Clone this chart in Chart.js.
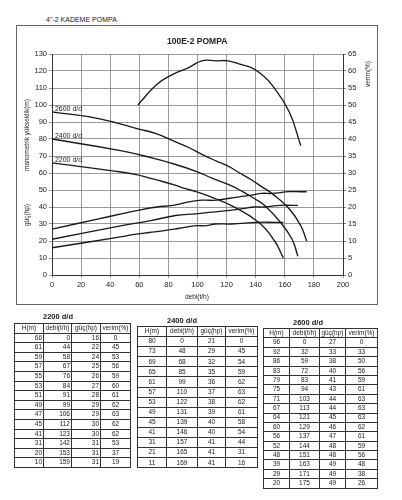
<!DOCTYPE html>
<html>
<head>
<meta charset="utf-8">
<script src="https://cdn.jsdelivr.net/npm/chart.js@4.4.1/dist/chart.umd.min.js"></script>
<style>
  html, body { margin: 0; padding: 0; background: #fff; }
  body { width: 402px; height: 500px; position: relative; overflow: hidden;
    font-family: "Liberation Sans", Arial, sans-serif; color: #222; }
  .abs { position: absolute; white-space: nowrap; }
  .box { position: absolute; left: 16px; top: 25px; width: 360px; height: 278px; border: 1px solid #666; }
  #chart { position: absolute; left: 16px; top: 25px; }
  .rot { transform: translate(-50%, -50%) rotate(-90deg); }
  table { position: absolute; border-collapse: collapse; table-layout: fixed; font-size: 6.5px; }
  td { border: 1px solid #333; padding: 0 1px; line-height: 1; }
  .ttl { font-weight: bold; font-size: 7.5px; }
</style>
</head>
<body>
<div class="abs" style="left:46px;top:16px;font-size:7px;">4"-2 KADEME POMPA</div>
<div class="box"></div>
<canvas id="chart" width="361" height="279" style="width:361px;height:279px;"></canvas>
<div class="abs" style="left:167px;top:36px;font-size:8.5px;font-weight:bold;">100E-2 POMPA</div>
<div class="abs rot" style="left:26px;top:135px;font-size:6.5px;">manometrik yükseklik(m)</div>
<div class="abs rot" style="left:26px;top:215px;font-size:6.5px;">güç(hp)</div>
<div class="abs rot" style="left:367px;top:74px;font-size:6.5px;">verim(%)</div>
<div class="abs" style="left:185px;top:293px;font-size:6.5px;">debi(t/h)</div>

<div class="abs ttl" style="left:43px;top:312px;">2200 d/d</div>
<div class="abs ttl" style="left:167px;top:316px;">2400 d/d</div>
<div class="abs ttl" style="left:293px;top:318px;">2600 d/d</div>
<table id="t2200" style="left:14px;top:323px;width:116px;"></table>
<table id="t2400" style="left:137px;top:326px;width:120px;"></table>
<table id="t2600" style="left:263px;top:328px;width:114px;"></table>

<script>
const tableHeaders = ['H(m)', 'debi(t/h)', 'güç(hp)', 'verim(%)'];

const head2200 = [66, 61, 59, 57, 55, 53, 51, 49, 47, 45, 41, 31, 20, 10];
const flow2200 = [0, 44, 58, 67, 76, 84, 91, 99, 106, 112, 123, 142, 153, 159];
const power2200 = [16, 22, 24, 25, 26, 27, 28, 29, 29, 30, 30, 31, 31, 31];
const eff2200 = [0, 45, 53, 56, 59, 60, 61, 62, 63, 62, 62, 53, 37, 19];

const head2400 = [80, 73, 69, 65, 61, 57, 53, 49, 45, 41, 31, 21, 11];
const flow2400 = [0, 48, 68, 85, 99, 110, 122, 131, 139, 146, 157, 165, 169];
const power2400 = [21, 29, 32, 35, 36, 37, 38, 39, 40, 40, 41, 41, 41];
const eff2400 = [0, 45, 54, 59, 62, 63, 62, 61, 58, 54, 44, 31, 16];

const head2600 = [96, 92, 86, 83, 79, 75, 71, 67, 64, 60, 56, 52, 48, 39, 29, 20];
const flow2600 = [0, 32, 59, 72, 83, 94, 103, 113, 121, 129, 137, 144, 151, 163, 171, 175];
const power2600 = [27, 33, 38, 40, 41, 43, 44, 44, 45, 46, 47, 48, 48, 49, 49, 49];
const eff2600 = [0, 33, 50, 56, 59, 61, 63, 63, 63, 62, 61, 59, 56, 48, 38, 26];

// only part of the 2600 efficiency curve is plotted (59 .. 171 t/h)
const effFrom = 2;
const effTo = 14;

const speedLabels = ['2200 d/d', '2400 d/d', '2600 d/d'];
const xTicks = [0, 20, 40, 60, 80, 100, 120, 140, 160, 180, 200];

function buildTable(id, cols, widths, aligns, rowHeight) {
  const table = document.getElementById(id);
  let html = '<colgroup>' + widths.map((w) => `<col style="width:${w}px">`).join('') + '</colgroup>';
  html += `<tr style="height:${rowHeight}px">` + tableHeaders.map((h) => `<td style="text-align:center">${h}</td>`).join('') + '</tr>';
  for (let i = 0; i < cols[0].length; i++) {
    html += `<tr style="height:${rowHeight}px">` +
      cols.map((c, j) => `<td style="text-align:${aligns[j]}">${c[i]}</td>`).join('') + '</tr>';
  }
  table.innerHTML = html;
}

buildTable('t2200', [head2200, flow2200, power2200, eff2200], [29, 28, 29, 30],
  ['right', 'right', 'right', 'center'], 9.6);
buildTable('t2400', [head2400, flow2400, power2400, eff2400], [29, 31, 28, 32],
  ['center', 'center', 'center', 'center'], 10.1);
buildTable('t2600', [head2600, flow2600, power2600, eff2600], [26, 30, 26, 32],
  ['center', 'center', 'center', 'center'], 9.4);

function points(xs, ys, from = 0, to = xs.length - 1) {
  const out = [];
  for (let i = from; i <= to; i++) out.push({ x: xs[i], y: ys[i] });
  return out;
}

function curve(data, axis = 'y') {
  return {
    data,
    yAxisID: axis,
    borderColor: '#1a1a1a',
    borderWidth: 1.35,
    pointRadius: 0,
    fill: false,
    tension: 0.45,
  };
}

const heads = [head2200, head2400, head2600];

const speedLabelPlugin = {
  id: 'speedLabels',
  afterDatasetsDraw(chart) {
    const { ctx, scales } = chart;
    ctx.save();
    ctx.font = '7px "Liberation Sans", Arial, sans-serif';
    ctx.fillStyle = '#222';
    ctx.textAlign = 'left';
    ctx.textBaseline = 'middle';
    speedLabels.forEach((label, i) => {
      const x = scales.x.getPixelForValue(2);
      const y = scales.y.getPixelForValue(heads[i][0] + 1.8);
      ctx.fillText(label, x, y);
    });
    ctx.restore();
  },
};

const gridColor = '#808080';
const tickFont = { family: '"Liberation Sans", Arial, sans-serif', size: 7.5 };

new Chart(document.getElementById('chart'), {
  type: 'line',
  data: {
    datasets: [
      curve(points(flow2600, head2600)),
      curve(points(flow2400, head2400)),
      curve(points(flow2200, head2200)),
      curve(points(flow2600, power2600)),
      curve(points(flow2400, power2400)),
      curve(points(flow2200, power2200)),
      curve(points(flow2600, eff2600, effFrom, effTo), 'y1'),
    ],
  },
  options: {
    responsive: false,
    animation: false,
    layout: { padding: { top: 29, left: 0, right: 0, bottom: 0 } },
    plugins: { legend: { display: false }, tooltip: { enabled: false } },
    scales: {
      x: {
        type: 'linear',
        min: 0,
        max: 200,
        afterBuildTicks: (scale) => { scale.ticks = xTicks.map((v) => ({ value: v })); },
        afterFit: (scale) => { scale.height = 29; },
        ticks: { color: '#222', font: tickFont, padding: 2, maxRotation: 0 },
        grid: { color: gridColor, lineWidth: 0.8, tickLength: 3 },
        border: { color: '#333', width: 1 },
      },
      y: {
        position: 'left',
        min: 0,
        max: 130,
        ticks: { stepSize: 10, color: '#222', font: tickFont, padding: 2 },
        afterFit: (scale) => { scale.width = 36; },
        grid: { color: gridColor, lineWidth: 0.8, tickLength: 3 },
        border: { color: '#333', width: 1 },
      },
      y1: {
        position: 'right',
        min: 0,
        max: 65,
        ticks: { stepSize: 5, color: '#222', font: tickFont, padding: 2 },
        afterFit: (scale) => { scale.width = 34; },
        grid: { drawOnChartArea: false, color: gridColor, tickLength: 3 },
        border: { color: '#333', width: 1 },
      },
    },
  },
  plugins: [speedLabelPlugin],
});
</script>
</body>
</html>
